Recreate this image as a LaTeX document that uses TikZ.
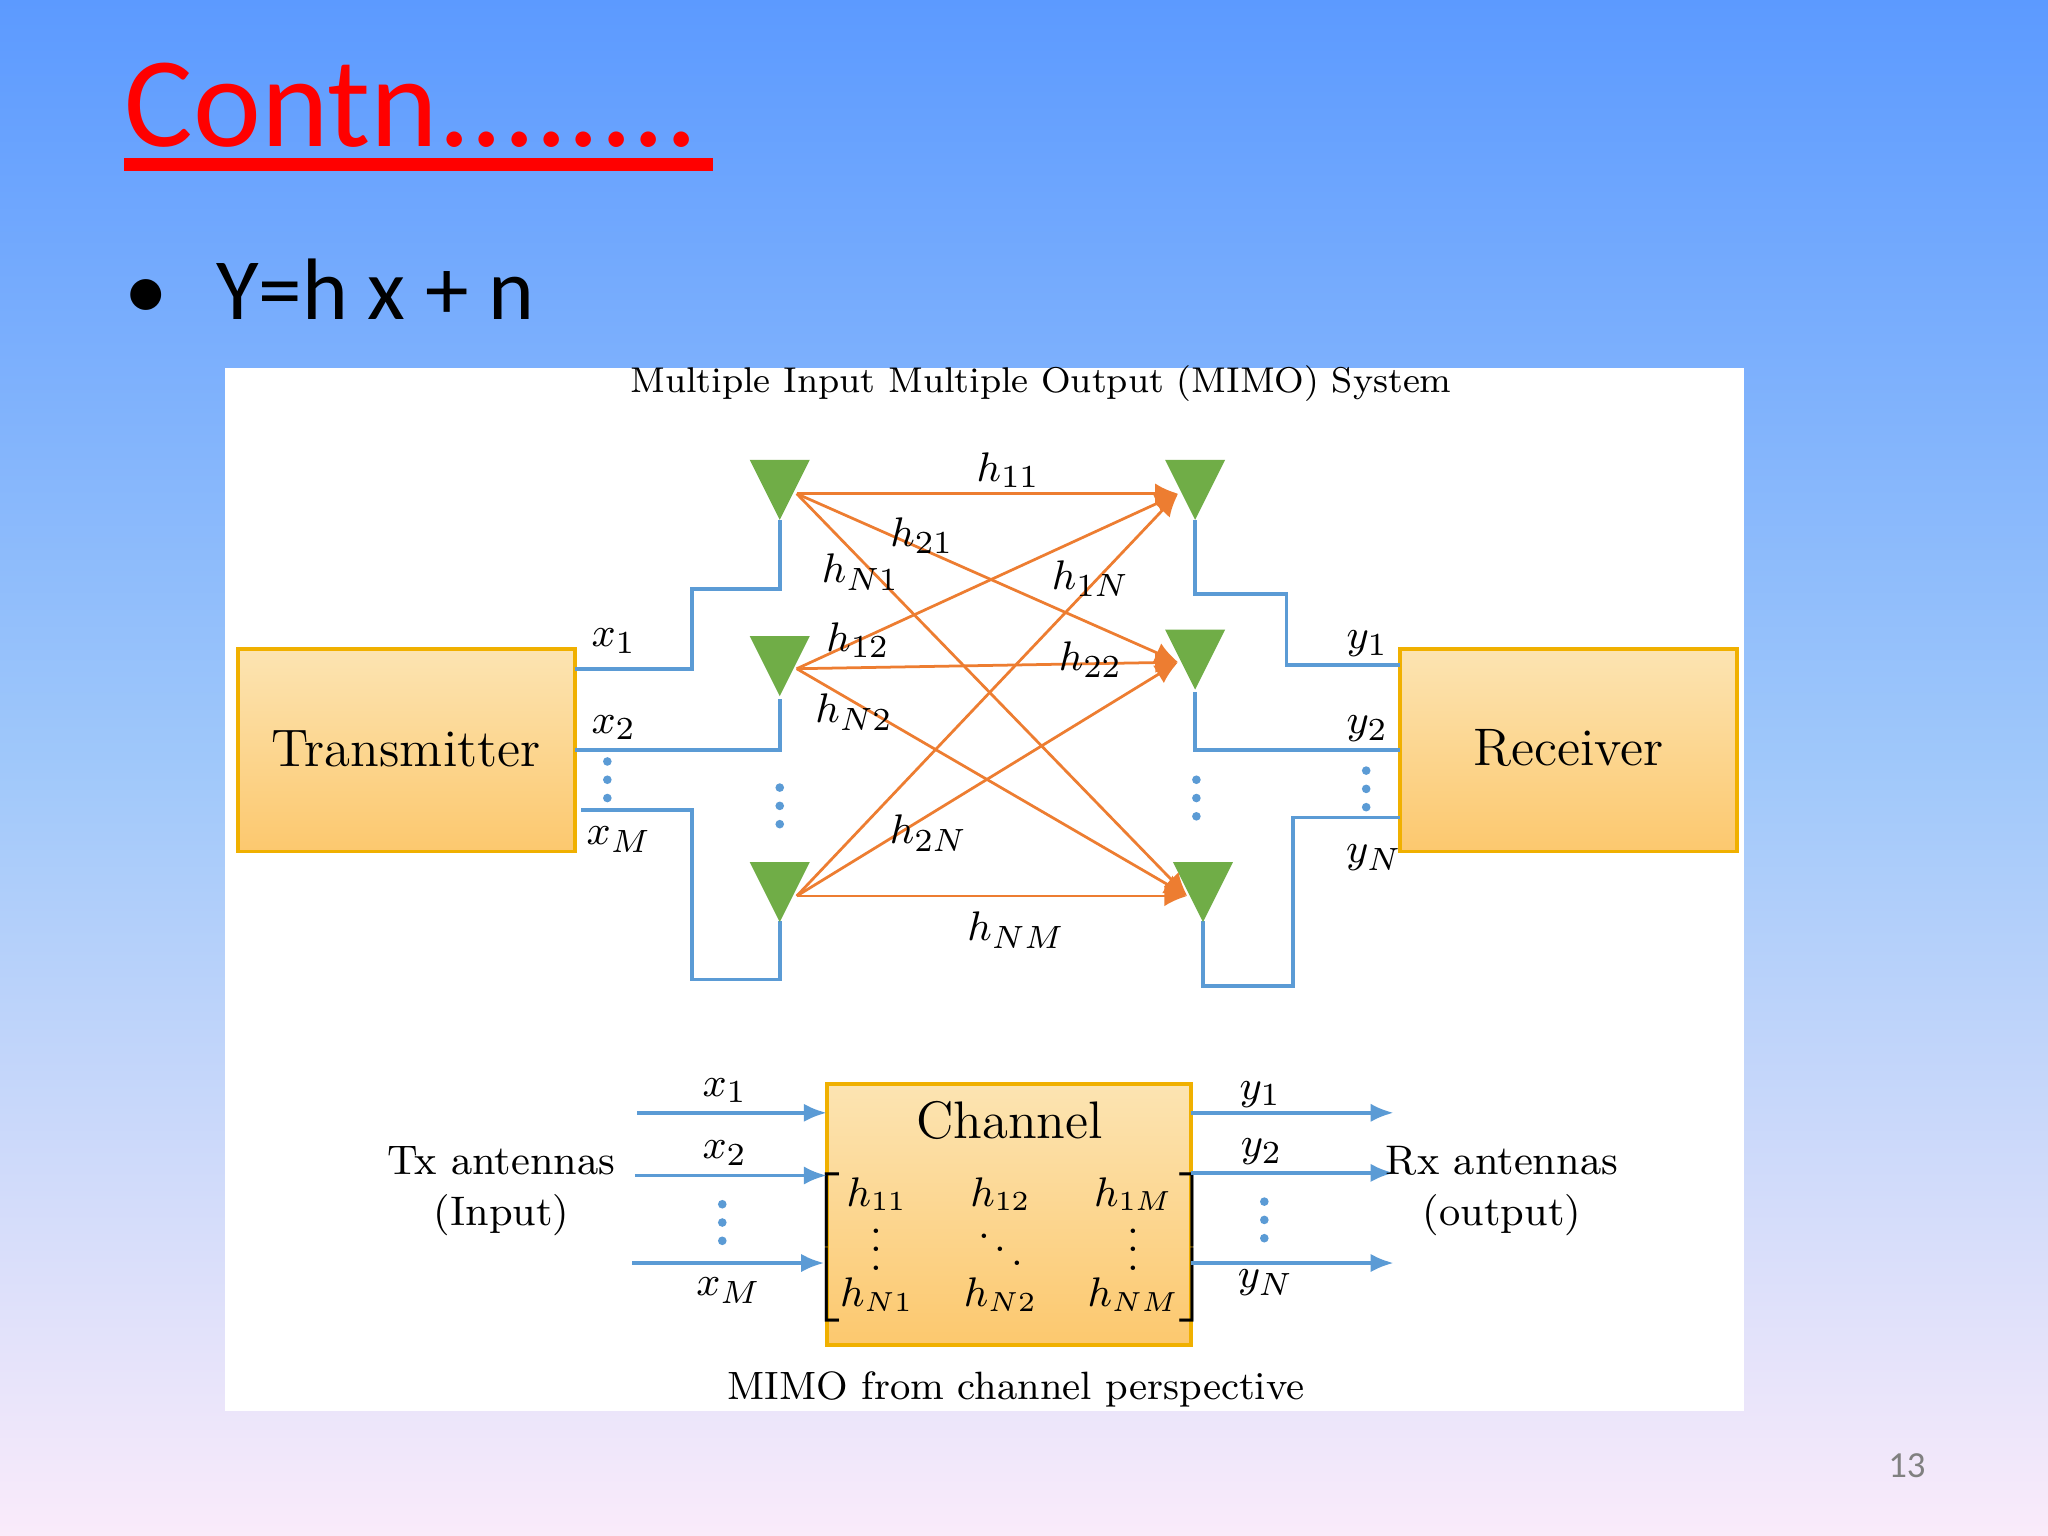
\documentclass[tikz,border=0pt]{standalone}
\usepackage{amsmath}
\usepackage{fontspec}
\newfontfamily\carlitofont{Carlito}
\usetikzlibrary{arrows.meta}
\definecolor{bgtop}{RGB}{92,154,255}
\definecolor{bgmid}{RGB}{160,200,250}
\definecolor{bgbot}{RGB}{250,235,250}
\definecolor{wire}{RGB}{91,155,213}
\definecolor{ora}{RGB}{237,125,49}
\definecolor{ant}{RGB}{112,173,71}
\definecolor{boxtop}{RGB}{252,228,178}
\definecolor{boxbot}{RGB}{252,200,110}
\definecolor{boxline}{RGB}{240,176,0}
\tikzset{
 wireln/.style={wire,line width=0.8pt},
 orln/.style={ora,line width=0.6pt,-{Latex[length=5pt,width=4.5pt]}},
 blar/.style={wire,line width=0.8pt,-{Latex[length=5pt,width=4pt]}},
 antenna/.style={fill=ant,draw=none},
 gbox/.style={draw=boxline,line width=0.8pt,top color=boxtop,bottom color=boxbot},
 lab/.style={font=\fontsize{9.5}{11}\selectfont,inner sep=0pt},
 bdot/.style={fill=wire,draw=none},
}
\begin{document}
\begin{tikzpicture}[x=0.01cm,y=-0.01cm]
\shade[top color=bgtop,bottom color=bgbot,middle color=bgmid] (0,0) rectangle (1568,1176);
\useasboundingbox (0,0) rectangle (1568,1176);
\fill[white] (172,282) rectangle (1335,1080);
% title
\node[anchor=base west,inner sep=0pt,text=red,font=\carlitofont\fontsize{28}{30}\selectfont] (title) at (95,112) {Contn........};
\draw[red,line width=3pt] (95,126) -- (546,126);
\node[anchor=base west,inner sep=0pt,font=\carlitofont\fontsize{19}{22}\selectfont] (eq) at (95,245) {\textbullet\hspace{0.55em}Y=h x + n};
\node[text=gray,font=\carlitofont\fontsize{8}{9}\selectfont] (pg) at (1460,1122) {13};
\node[font=\fontsize{7.8}{9}\selectfont] (head) at (797,294) {Multiple Input Multiple Output (MIMO) System};
% boxes
\path[gbox] (182,497) rectangle (440,652);
\node[font=\fontsize{11.5}{13}\selectfont] (tx) at (311,573) {Transmitter};
\path[gbox] (1072,497) rectangle (1330,652);
\node[font=\fontsize{11.5}{13}\selectfont] (rx) at (1201,573) {Receiver};
% wires
\draw[wireln] (440,512) -- (530,512) -- (530,451) -- (597,451) -- (597,398);
\draw[wireln] (440,574) -- (597,574) -- (597,535);
\draw[wireln] (445,620) -- (530,620) -- (530,750) -- (597,750) -- (597,705);
\draw[wireln] (1072,509) -- (985,509) -- (985,455) -- (915,455) -- (915,398);
\draw[wireln] (1072,574) -- (915,574) -- (915,530);
\draw[wireln] (1072,626) -- (990,626) -- (990,755) -- (921,755) -- (921,705);
% antennas
\foreach \x/\y in {597/352,597/487,597/660,915/352,915/482,921/660}{
 \fill[antenna] (\x-23,\y) -- (\x+23,\y) -- (\x,\y+46) -- cycle;
}
\coordinate (T1) at (610,378); \coordinate (T2) at (610,512); \coordinate (TN) at (610,686);
\coordinate (R1) at (902,378); \coordinate (R2) at (902,507); \coordinate (RN) at (909,686);
\foreach \a in {T1,T2,TN}{\foreach \b in {R1,R2,RN}{\draw[orln] (\a) -- (\b);}}
% dots
\foreach \x/\y in {465/583,597/603,916/597,1046/590,553/922,968/920}{
 \foreach \k in {0,1,2}{\fill[bdot] (\x,\y+\k*14) circle (3.3);}}
% labels
\node[lab] (l11) at (772,360) {$h_{11}$};
\node[lab] (l21) at (706,410) {$h_{21}$};
\node[lab] (lN1) at (659,438) {$h_{N1}$};
\node[lab] (l1N) at (835,443) {$h_{1N}$};
\node[lab] (l12) at (657,490) {$h_{12}$};
\node[lab] (l22) at (835,505) {$h_{22}$};
\node[lab] (lN2) at (654,545) {$h_{N2}$};
\node[lab] (l2N) at (711,638) {$h_{2N}$};
\node[lab] (lNM) at (778,712) {$h_{NM}$};
\node[lab] (x1) at (470,491) {$x_1$};
\node[lab] (x2) at (470,557) {$x_2$};
\node[lab] (xM) at (474,643) {$x_M$};
\node[lab] (y1) at (1047,493) {$y_1$};
\node[lab] (y2) at (1047,558) {$y_2$};
\node[lab] (yN) at (1052,657) {$y_N$};
% bottom
\path[gbox] (633,830) rectangle (912,1030);
\node[font=\fontsize{11.5}{13}\selectfont] (ch) at (773,858) {Channel};
\node[font=\fontsize{9}{10}\selectfont] (mat) at (773,955) {\setlength\arraycolsep{5.5pt}$\left[\begin{matrix} h_{11} & h_{12} & h_{1M}\\[-4pt] \vdots & \ddots & \vdots \\[-2pt] h_{N1}&h_{N2}&h_{NM}\end{matrix}\right]$};
\coordinate (a1) at (488,852); \coordinate (b1) at (633,852);
\coordinate (a2) at (486,900); \coordinate (b2) at (633,900);
\coordinate (a3) at (484,967); \coordinate (b3) at (631,967);
\coordinate (c1) at (912,852); \coordinate (d1) at (1067,852);
\coordinate (c2) at (912,898); \coordinate (d2) at (1067,898);
\coordinate (c3) at (912,967); \coordinate (d3) at (1067,967);
\draw[blar] (a1) -- (b1); \draw[blar] (a2) -- (b2); \draw[blar] (a3) -- (b3);
\draw[blar] (c1) -- (d1); \draw[blar] (c2) -- (d2); \draw[blar] (c3) -- (d3);
\node[lab] (bx1) at (555,835) {$x_1$};
\node[lab] (bx2) at (555,883) {$x_2$};
\node[lab] (bxM) at (558,988) {$x_M$};
\node[lab] (by1) at (965,838) {$y_1$};
\node[lab] (by2) at (966,882) {$y_2$};
\node[lab] (byN) at (969,982) {$y_N$};
\node[align=center,font=\fontsize{9}{11}\selectfont] (txa) at (384,912) {Tx antennas\\(Input)};
\node[align=center,font=\fontsize{9}{11}\selectfont] (rxa) at (1150,912) {Rx antennas\\(output)};
\node[font=\fontsize{8.6}{10}\selectfont] (cap) at (778,1064) {MIMO from channel perspective};
\end{tikzpicture}
\end{document}
